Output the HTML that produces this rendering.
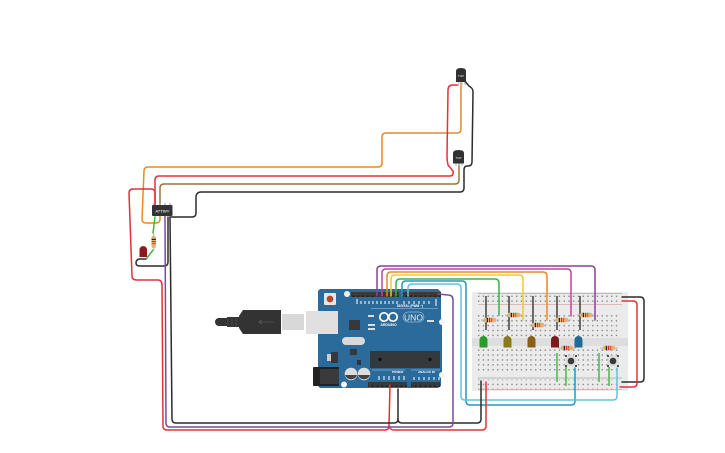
<!DOCTYPE html>
<html><head><meta charset="utf-8"><style>
html,body{margin:0;padding:0;background:#fff;width:725px;height:453px;overflow:hidden}
svg{display:block}
text{font-family:"Liberation Sans",sans-serif}
.w{fill:none;stroke-width:1.5;stroke-linejoin:round;stroke-linecap:round}
</style></head><body>
<svg width="725" height="453" viewBox="0 0 725 453" xmlns="http://www.w3.org/2000/svg">
<defs>
<pattern id="h" x="476.5" y="0" width="4.75" height="4.9" patternUnits="userSpaceOnUse"><rect x="1.6" y="1.6" width="1.3" height="1.3" fill="#777"/></pattern>
<pattern id="pinh" x="351" y="0" width="4.8" height="6" patternUnits="userSpaceOnUse"><rect width="4.8" height="6" fill="#3a3a3a"/><rect x="1.5" y="1.5" width="1.8" height="2" fill="#1c1c1c"/></pattern>
<g id="res"><rect x="-9" y="-.6" width="18" height="1.2" fill="#bbb"/><rect x="-6" y="-2.2" width="12" height="4.4" rx="1.6" fill="#e0b66c"/><rect x="-3.2" y="-2.2" width="1.2" height="4.4" fill="#222"/><rect x="-1" y="-2.2" width="1.2" height="4.4" fill="#c33"/><rect x="1" y="-2.2" width="1.2" height="4.4" fill="#d55"/></g>
<g id="led"><path d="M-4,5.500V-2a4,4 0 0 1 8,0V5.500Z"/></g>
<g id="btn"><rect x="-5.5" y="-5.5" width="11" height="11" fill="#ddd"/><circle r="3.3" fill="#3a3a3a"/><rect x="-6" y="-6" width="2" height="2" fill="#555"/><rect x="4" y="-6" width="2" height="2" fill="#555"/><rect x="-6" y="4" width="2" height="2" fill="#555"/><rect x="4" y="4" width="2" height="2" fill="#555"/></g>
</defs>

<!-- breadboard -->
<rect x="472" y="292" width="156" height="99" fill="#ebebeb"/>
<rect x="472" y="338" width="156" height="8" fill="#dedede"/>
<rect x="476.5" y="294.6" width="143" height="9.8" fill="url(#h)"/>
<rect x="476.5" y="313.6" width="143" height="24.5" fill="url(#h)"/>
<rect x="476.5" y="346" width="143" height="24.5" fill="url(#h)"/>
<rect x="476.5" y="379.6" width="143" height="9.8" fill="url(#h)"/>
<path d="M478,293.5H622M478,378H622" stroke="#888" stroke-width=".6"/>
<path d="M478,304.5H622M478,389.5H622" stroke="#d08a8a" stroke-width=".6"/>
<path d="M486,296V330M509,296V330M533,296V330M557,296V330M580,296V330" stroke="#333" stroke-width="1.4"/>
<path d="M557,353V382M566,367V386M599,353V382M609,367V386" stroke="#3fb53f" stroke-width="1.4"/>
<use href="#res" x="490" y="320"/><use href="#res" x="514" y="315"/><use href="#res" x="538" y="325"/><use href="#res" x="562" y="320"/><use href="#res" x="586" y="315"/><use href="#res" x="567" y="348"/><use href="#res" x="609" y="348"/>
<use href="#led" x="483.5" y="342" fill="#2a9a2e"/><use href="#led" x="507.5" y="342" fill="#8a7a1e"/><use href="#led" x="531.5" y="342" fill="#8a6018"/><use href="#led" x="555" y="342" fill="#7c1a1e"/><use href="#led" x="578.5" y="342" fill="#1f6a96"/>
<use href="#btn" x="571" y="361"/><use href="#btn" x="613" y="361"/>

<!-- USB cable -->
<rect x="282" y="314" width="22" height="16" fill="#d8d8d8"/>
<path d="M239,316L243,310H281V334H243L239,328Z" fill="#333"/>
<path d="M219,318H227V317H239V327H227V326H219A4,4 0 0 1 219,318Z" fill="#333"/>
<path d="M228,317v10M232,317v10M236,317v10" stroke="#555" stroke-width=".5"/>
<path d="M258,322H274M262,320l-3,2 3,2" stroke="#666" stroke-width=".6" fill="none"/>

<!-- Arduino -->
<path d="M320,289H438L441,292V318L442,320V373L441,376V386L438,388H320L318,386V291Z" fill="#2b6b9b"/>
<rect x="313" y="367" width="26" height="19" rx="1" fill="#222"/><rect x="320" y="369" width="19" height="15" rx="1" fill="#3a3a3a"/>
<rect x="306" y="311" width="32" height="23" fill="#e0e0e0"/>
<rect x="324" y="293" width="12" height="12" rx="1" fill="#e6e6e6"/><circle cx="330" cy="299" r="3.4" fill="#b5482c"/>
<rect x="351" y="292" width="48" height="5" fill="url(#pinh)"/><rect x="402" y="292" width="39" height="5" fill="url(#pinh)"/>
<rect x="368" y="382" width="39" height="5" fill="url(#pinh)"/><rect x="411" y="382" width="29" height="5" fill="url(#pinh)"/>
<rect x="370" y="351" width="70" height="17" fill="#36393c"/><circle cx="380" cy="359.5" r="1.7" fill="#111"/><circle cx="430" cy="359.5" r="1.7" fill="#111"/>
<rect x="342" y="337" width="23" height="8" rx="4" fill="#d9d9d9"/>
<rect x="349" y="320" width="11" height="10" fill="#36393c"/><rect x="350" y="349" width="7" height="6" fill="#36393c"/>
<rect x="331" y="352" width="7" height="11" fill="#36393c"/><rect x="327" y="354" width="4" height="7" fill="#ccc"/>
<rect x="357" y="360" width="4" height="5" fill="#333"/>
<circle cx="351" cy="374" r="6.3" fill="#ddd"/><path d="M345,375a6.3,6.3 0 0 0 12,0Z" fill="#444"/>
<circle cx="364" cy="374" r="6.3" fill="#ddd"/><path d="M358,375a6.3,6.3 0 0 0 12,0Z" fill="#444"/>
<circle cx="347" cy="294" r="3" fill="#f4f4f4"/><circle cx="442" cy="322" r="3" fill="#f4f4f4"/><circle cx="442" cy="375" r="3" fill="#f4f4f4"/><circle cx="344" cy="384.5" r="3" fill="#f4f4f4"/>
<g fill="none" stroke="#fff" stroke-width="1.7"><circle cx="384" cy="317" r="4.2"/><circle cx="393" cy="317" r="4.2"/></g>
<text x="388.5" y="326" font-size="3.500" font-weight="bold" fill="#fff" text-anchor="middle">ARDUINO</text>
<rect x="403" y="312" width="21" height="10" rx="5" fill="none" stroke="#cfe0ec" stroke-width=".5"/>
<text x="413.5" y="320.5" font-size="8.5" fill="#e6eff5" text-anchor="middle">UNO</text>
<text x="397" y="307" font-size="3.2" font-weight="bold" fill="#fff">DIGITAL (PWM ~)</text>
<path d="M371,308.5H438" stroke="#cfe0ec" stroke-width=".4"/>
<path d="M357,299v5M361,301v3M365,301v3M369,301v3M373,301v3M377,301v3M381,301v3M385,301v3M389,301v3M393,301v3M397,301v3M404,301v3M409,301v3M414,301v3M419,301v3M424,301v3M429,301v3M436,299v7" stroke="#dfe9f0" stroke-width="1.2"/>
<text x="392" y="373" font-size="3" font-weight="bold" fill="#fff">POWER</text>
<text x="418" y="373" font-size="3" font-weight="bold" fill="#fff">ANALOG IN</text>
<path d="M372,370H405M411,370H440" stroke="#cfe0ec" stroke-width=".4"/>
<path d="M379,376v4M384,376v4M389,376v4M394,376v4M399,376v4M404,376v4M414,377v3M419,377v3M424,377v3M429,377v3M434,377v3M439,377v3" stroke="#dfe9f0" stroke-width="1.2"/>
<rect x="368" y="315" width="6" height="2" fill="#ddd"/><rect x="368" y="324" width="7" height="2" fill="#ddd"/><rect x="368" y="328" width="7" height="2" fill="#ddd"/>
<rect x="427" y="320" width="7" height="2" fill="#ddd"/>

<!-- wires top to breadboard -->
<path class="w" stroke="#8e3ea0" d="M377,296V270Q377,266 381,266H591Q595,266 595,270V320"/>
<path class="w" stroke="#c8409c" d="M382,296V273Q382,269 386,269H567Q571,269 571,273V316"/>
<path class="w" stroke="#e8892a" d="M387,296V276Q387,272 391,272H543Q547,272 547,276V320"/>
<path class="w" stroke="#eecb2c" d="M391,296V279Q391,275 395,275H519Q523,275 523,279V320"/>
<path class="w" stroke="#3fb04a" d="M396,296V283Q396,279 400,279H495Q499,279 499,283V315"/>
<path class="w" stroke="#1e9ac8" d="M402,296V285Q402,281 406,281H462Q466,281 466,285V401Q466,405 470,405H571Q575,405 575,401V368"/>
<path class="w" stroke="#62c4d8" d="M408,296V288Q408,284 412,284H457Q461,284 461,288V396Q461,400 465,400H613Q617,400 617,396V368"/>
<!-- rails -->
<path class="w" stroke="#2c2c2c" d="M622,297H640Q644,297 644,301V378Q644,382 640,382H622"/>
<path class="w" stroke="#e0323a" d="M622,301H633Q637,301 637,305V383Q637,387 633,387H620"/>

<!-- long wires -->
<path class="w" stroke="#e8892a" d="M461,83V129Q461,133 457,133H386Q382,133 382,137V163Q382,167 378,167H148Q144,167 144,171L142,219Q142,223 146,223H156Q160,223 160,219V214"/>
<path class="w" stroke="#e0323a" d="M155,205V180Q155,176 159,176H450Q454,176 453,171L448,165Q447,160 447,156L448,90Q448,85 453,85H458"/>
<path class="w" stroke="#a07038" d="M160,205V188Q160,184 164,184H455Q459,184 459,180V163"/>
<path class="w" stroke="#2c2c2c" d="M170,217H192Q196,217 196,213V196Q197,192 201,192H460Q464,192 464,188V170Q464,166 467,166H468Q472,166 472,162L473,92Q473,88 469,86L464,80"/>
<path class="w" stroke="#e0323a" d="M155,205V193Q155,189 151,189H133Q129,189 129,193L132,276Q132,280 137,280H158Q162,280 162,285L163,426Q163,430 167,430H385Q389,430 389,426L390,385"/>
<path class="w" stroke="#e0323a" d="M389,426Q390,430 394,430H482Q486,430 486,426V382"/>
<path class="w" stroke="#2c2c2c" d="M168,217V262Q168,266 164,266H140Q136,266 136,263T139,259H146"/>
<path class="w" stroke="#2c2c2c" d="M170,217L172,419Q172,423 176,423H394Q398,423 398,419V389"/>
<path class="w" stroke="#2c2c2c" d="M398,419Q398,423 402,423H477Q481,423 481,419V381"/>
<path class="w" stroke="#7a4a9c" d="M165,215L166,423Q166,427 170,427H449Q453,427 453,423V300Q453,295 448,295L438,294"/>
<path class="w" stroke="#3fb53f" d="M155,217L153,233"/>
<path class="w" stroke="#3fb53f" d="M153,250L147,258"/>

<!-- ATtiny + LED + resistor -->
<path d="M154,205v-2M160,205v-2M165,205v-2M170,205v-2" stroke="#999" stroke-width="1"/>
<rect x="152" y="205" width="20.5" height="11" rx="1" fill="#333"/>
<text x="162.3" y="212.5" font-size="4" font-weight="bold" font-style="italic" fill="#ddd" text-anchor="middle">ATTINY</text>
<g transform="translate(153.7,242) rotate(90)"><use href="#res"/></g>
<path d="M139.5,257V249a4,4.5 0 0 1 7.5,0V257Z" fill="#8a1a1e"/>

<!-- TMP sensors -->
<path d="M459,82L458,85M462,82V85M464,82L466,85" stroke="#bbb" stroke-width="1"/>
<path d="M456,71Q456,68 461,68T466,71V82H456Z" fill="#2f3133"/>
<text x="461" y="77" font-size="3" fill="#ddd" text-anchor="middle">TMP</text>
<path d="M456,163V166M459,163V166M461,163L463,166" stroke="#bbb" stroke-width="1"/>
<path d="M453,153Q453,150 458.5,150T464,153V163.500H453Z" fill="#2f3133"/>
<text x="458.500" y="159" font-size="3" fill="#ddd" text-anchor="middle">TMP</text>
</svg>
</body></html>
